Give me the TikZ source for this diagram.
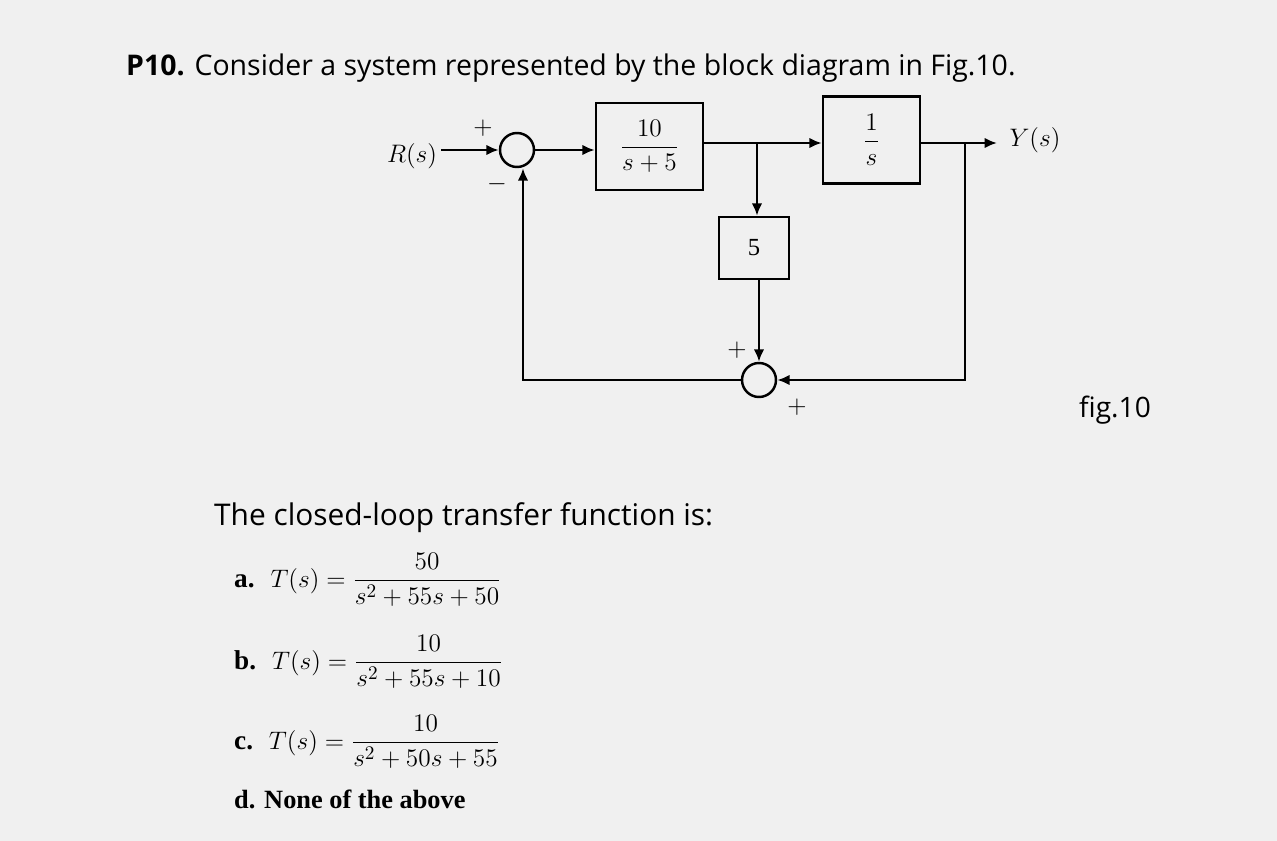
\documentclass[tikz,border=0pt]{standalone}
\usepackage{amsmath}
\usepackage{fontspec}
\setsansfont{Open Sans}
\setmainfont{Liberation Serif}
\usetikzlibrary{arrows.meta}
\begin{document}
\begin{tikzpicture}[x=0.02cm,y=-0.02cm,
  blk/.style={draw,line width=1.4pt,minimum width=0pt,inner sep=0pt},
  sig/.style={line width=1.4pt,-{Latex[length=7pt,width=6pt]}},
  ln/.style={line width=1.4pt},
  sumc/.style={draw,line width=1.4pt,circle,minimum size=0.68cm,inner sep=0pt},
  lbl/.style={font=\fontsize{14}{16}\selectfont}]
\useasboundingbox[fill=white!94!black] (0,0) rectangle (1277,841);
\node[anchor=west,font=\sffamily\fontsize{16.2}{19}\selectfont] (title) at (120,68) {\textbf{P10.} Consider a system represented by the block diagram in Fig.10.};
% blocks
\node[blk,minimum width=2.14cm,minimum height=1.74cm] (g1) at (649.5,146.5) {};
\node[lbl] (g1t) at (g1) {$\dfrac{10}{s+5}$};
\node[blk,minimum width=1.94cm,minimum height=1.74cm] (g2) at (871.5,140) {};
\node[lbl] (g2t) at (g2) {$\dfrac{1}{s}$};
\node[blk,minimum width=1.4cm,minimum height=1.24cm,lbl] (g3) at (754,248) {5};
\node[sumc] (s1) at (517,150) {};
\node[sumc] (s2) at (759,380) {};
\node[lbl] (R) at (412,156) {$R(s)$};
\node[lbl] (Y) at (1035,140) {$Y(s)$};
\node[lbl] (p1) at (483,128) {$+$};
\node[lbl] (m1) at (497,184) {$-$};
\node[lbl] (p2) at (737,350) {$+$};
\node[lbl] (p3) at (797,407) {$+$};
\coordinate (r0) at (441,150);
\coordinate (b1) at (757,143);
\coordinate (b2) at (965,143);
\coordinate (yo) at (997,143);
\coordinate (c2) at (965,380);
\coordinate (c1) at (523,380);
\draw[sig] (r0) -- (s1.west);
\draw[sig] (s1.east) -- (s1.east -| g1.west);
\draw[ln] (g1.east |- b1) -- (b1);
\draw[sig] (b1) -- (b1 -| g2.west);
\draw[sig] (b2 -| g2.east) -- (yo);
\draw[sig] (b1) -- (b1 |- g3.north);
\draw[sig] (g3.south -| s2) -- (s2.north);
\draw[sig] (b2) -- (c2) -- (s2.east);
\draw[sig] (s2.west) -- (c1) -- (c1 |- s1.south);
\node[font=\sffamily\fontsize{16}{19}\selectfont] (fig) at (1115,410) {fig.10};
\node[anchor=west,font=\sffamily\fontsize{17}{20}\selectfont] (q) at (208,518) {The closed-loop transfer function is:};
\node[anchor=west,font=\fontsize{15.5}{18}\selectfont] (a) at (228,580) {\textbf{a.} \ $T(s)=\dfrac{50}{s^2+55s+50}$};
\node[anchor=west,font=\fontsize{15.5}{18}\selectfont] (b) at (228,662) {\textbf{b.} \ $T(s)=\dfrac{10}{s^2+55s+10}$};
\node[anchor=west,font=\fontsize{15.5}{18}\selectfont] (c) at (228,742) {\textbf{c.} \ $T(s)=\dfrac{10}{s^2+50s+55}$};
\node[anchor=west,font=\bfseries\fontsize{15}{18}\selectfont] (d) at (228,799) {d. None of the above};
\end{tikzpicture}
\end{document}
